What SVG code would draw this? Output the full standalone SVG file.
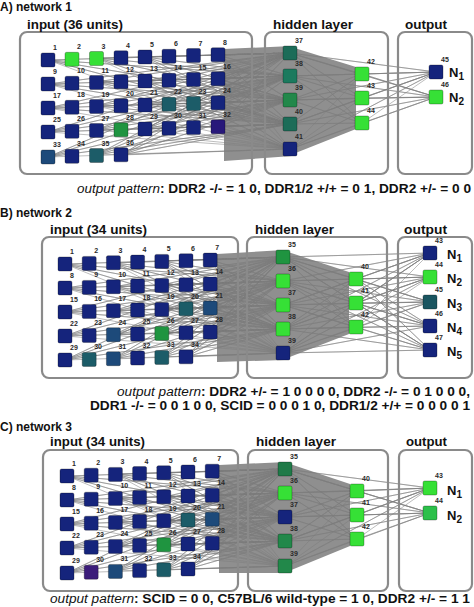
<svg xmlns="http://www.w3.org/2000/svg" xmlns:xlink="http://www.w3.org/1999/xlink" width="474" height="607" viewBox="0 0 474 607">
<style>
.k{fill:none;stroke:#7c7c7c;stroke-width:.6;stroke-opacity:.85}
.m{fill:#8f8f8f}
.bx{fill:none;stroke:#8a8a8a;stroke-width:2.2}
.ti{font:bold 12px "Liberation Sans",Arial,sans-serif;fill:#111}
.hd{font:bold 13px "Liberation Sans",Arial,sans-serif;fill:#111}
.l{font:bold 7px "Liberation Sans",Arial,sans-serif;fill:#2a2a2a}
.N{font:bold 13px "Liberation Sans",Arial,sans-serif;fill:#111}
.ci{font:italic 12px "Liberation Sans",Arial,sans-serif;fill:#111}
.cb{font:bold 12px "Liberation Sans",Arial,sans-serif;fill:#111}
.nv{fill:#15247c}.gb{fill:#36e036}.gm{fill:#1f9440}.tl{fill:#1c5c68}.tb{fill:#1d4a7a}
.tg{fill:#1c6c58}.tg2{fill:#1b7a5e}.g2{fill:#22884a}.g3{fill:#2cc04a}.g4{fill:#1f7a48}
.in{fill:#28187a}.pu{fill:#3b1c7a}.t5{fill:#1a5560}
</style>
<defs>
<rect id="q" width="14" height="14" rx="1.5" stroke="#000" stroke-opacity=".35" stroke-width=".8"/>
</defs>
<g id="connectors">
<polygon class="m" points="224,49 292,46 292,156 224,161"/>
<polygon class="m" points="288,46 356,67 356,129 288,156"/>
<polygon class="m" points="217,254 284,250 284,360 217,362"/>
<polygon class="m" points="282,250 349,272 349,334 282,360"/>
<polygon class="m" points="219,465 286,462 286,573 219,573"/>
<polygon class="m" points="284,462 350,484 350,546 284,573"/>
<path class="k" d="M48 60L290 53 48 60 290 76 48 60 290 100 48 60 290 124 48 60 290 149M48 84L290 53 48 84 290 76 48 84 290 100 48 84 290 124 48 84 290 149M48 108L290 53 48 108 290 76 48 108 290 100 48 108 290 124 48 108 290 149M48 132L290 53 48 132 290 76 48 132 290 100 48 132 290 124 48 132 290 149M48 157L290 53 48 157 290 76 48 157 290 100 48 157 290 124 48 157 290 149M96 58L290 53 96 58 290 76 96 58 290 100 96 58 290 124 96 58 290 149M96 82L290 53 96 82 290 76 96 82 290 100 96 82 290 124 96 82 290 149M96 106L290 53 96 106 290 76 96 106 290 100 96 106 290 124 96 106 290 149M96 130L290 53 96 130 290 76 96 130 290 100 96 130 290 124 96 130 290 149M96 155L290 53 96 155 290 76 96 155 290 100 96 155 290 124 96 155 290 149M145 57L290 53 145 57 290 76 145 57 290 100 145 57 290 124 145 57 290 149M145 81L290 53 145 81 290 76 145 81 290 100 145 81 290 124 145 81 290 149M145 105L290 53 145 105 290 76 145 105 290 100 145 105 290 124 145 105 290 149M145 129L290 53 145 129 290 76 145 129 290 100 145 129 290 124 145 129 290 149M121 155L290 53 121 155 290 76 121 155 290 100 121 155 290 124 121 155 290 149M218 55L290 53 218 55 290 76 218 55 290 100 218 55 290 124 218 55 290 149M218 79L290 53 218 79 290 76 218 79 290 100 218 79 290 124 218 79 290 149M218 103L290 53 218 103 290 76 218 103 290 100 218 103 290 124 218 103 290 149M218 127L290 53 218 127 290 76 218 127 290 100 218 127 290 124 218 127 290 149"/>
<path class="k" d="M362 74L290 53 362 74 290 76 362 74 290 100 362 74 290 124 362 74 290 149M362 98L290 53 362 98 290 76 362 98 290 100 362 98 290 124 362 98 290 149M362 123L290 53 362 123 290 76 362 123 290 100 362 123 290 124 362 123 290 149M436 72L290 53 436 72 290 76 436 72 290 100 436 72 290 124 436 72 290 149 436 72 362 74 436 72 362 98 436 72 362 123M436 97L290 53 436 97 290 76 436 97 290 100 436 97 290 124 436 97 290 149 436 97 362 74 436 97 362 98 436 97 362 123"/>
<path class="k" d="M65 264L283 257 65 264 283 281 65 264 283 305 65 264 283 329 65 264 283 353M65 288L283 257 65 288 283 281 65 288 283 305 65 288 283 329 65 288 283 353M65 312L283 257 65 312 283 281 65 312 283 305 65 312 283 329 65 312 283 353M65 336L283 257 65 336 283 281 65 336 283 305 65 336 283 329 65 336 283 353M65 360L283 257 65 360 283 281 65 360 283 305 65 360 283 329 65 360 283 353M113 263L283 257 113 263 283 281 113 263 283 305 113 263 283 329 113 263 283 353M113 287L283 257 113 287 283 281 113 287 283 305 113 287 283 329 113 287 283 353M113 311L283 257 113 311 283 281 113 311 283 305 113 311 283 329 113 311 283 353M113 335L283 257 113 335 283 281 113 335 283 305 113 335 283 329 113 335 283 353M113 359L283 257 113 359 283 281 113 359 283 305 113 359 283 329 113 359 283 353M162 261L283 257 162 261 283 281 162 261 283 305 162 261 283 329 162 261 283 353M162 285L283 257 162 285 283 281 162 285 283 305 162 285 283 329 162 285 283 353M162 309L283 257 162 309 283 281 162 309 283 305 162 309 283 329 162 309 283 353M162 333L283 257 162 333 283 281 162 333 283 305 162 333 283 329 162 333 283 353M162 357L283 257 162 357 283 281 162 357 283 305 162 357 283 329 162 357 283 353M210 260L283 257 210 260 283 281 210 260 283 305 210 260 283 329 210 260 283 353M210 284L283 257 210 284 283 281 210 284 283 305 210 284 283 329 210 284 283 353M210 308L283 257 210 308 283 281 210 308 283 305 210 308 283 329 210 308 283 353M210 332L283 257 210 332 283 281 210 332 283 305 210 332 283 329 210 332 283 353M186 357L283 257 186 357 283 281 186 357 283 305 186 357 283 329 186 357 283 353"/>
<path class="k" d="M356 279L283 257 356 279 283 281 356 279 283 305 356 279 283 329 356 279 283 353M356 303L283 257 356 303 283 281 356 303 283 305 356 303 283 329 356 303 283 353M356 327L283 257 356 327 283 281 356 327 283 305 356 327 283 329 356 327 283 353M430 253L283 257 430 253 283 281 430 253 283 305 430 253 283 329 430 253 283 353 430 253 356 279 430 253 356 303 430 253 356 327M430 277L283 257 430 277 283 281 430 277 283 305 430 277 283 329 430 277 283 353 430 277 356 279 430 277 356 303 430 277 356 327M430 302L283 257 430 302 283 281 430 302 283 305 430 302 283 329 430 302 283 353 430 302 356 279 430 302 356 303 430 302 356 327M430 326L283 257 430 326 283 281 430 326 283 305 430 326 283 329 430 326 283 353 430 326 356 279 430 326 356 303 430 326 356 327M430 350L283 257 430 350 283 281 430 350 283 305 430 350 283 329 430 350 283 353 430 350 356 279 430 350 356 303 430 350 356 327"/>
<path class="k" d="M67 476L285 469 67 476 285 493 67 476 285 517 67 476 285 541 67 476 285 566M67 500L285 469 67 500 285 493 67 500 285 517 67 500 285 541 67 500 285 566M67 524L285 469 67 524 285 493 67 524 285 517 67 524 285 541 67 524 285 566M67 548L285 469 67 548 285 493 67 548 285 517 67 548 285 541 67 548 285 566M67 573L285 469 67 573 285 493 67 573 285 517 67 573 285 541 67 573 285 566M115 474L285 469 115 474 285 493 115 474 285 517 115 474 285 541 115 474 285 566M115 498L285 469 115 498 285 493 115 498 285 517 115 498 285 541 115 498 285 566M115 522L285 469 115 522 285 493 115 522 285 517 115 522 285 541 115 522 285 566M115 546L285 469 115 546 285 493 115 546 285 517 115 546 285 541 115 546 285 566M115 571L285 469 115 571 285 493 115 571 285 517 115 571 285 541 115 571 285 566M164 473L285 469 164 473 285 493 164 473 285 517 164 473 285 541 164 473 285 566M164 497L285 469 164 497 285 493 164 497 285 517 164 497 285 541 164 497 285 566M164 521L285 469 164 521 285 493 164 521 285 517 164 521 285 541 164 521 285 566M164 545L285 469 164 545 285 493 164 545 285 517 164 545 285 541 164 545 285 566M164 570L285 469 164 570 285 493 164 570 285 517 164 570 285 541 164 570 285 566M212 471L285 469 212 471 285 493 212 471 285 517 212 471 285 541 212 471 285 566M212 495L285 469 212 495 285 493 212 495 285 517 212 495 285 541 212 495 285 566M212 519L285 469 212 519 285 493 212 519 285 517 212 519 285 541 212 519 285 566M212 543L285 469 212 543 285 493 212 543 285 517 212 543 285 541 212 543 285 566M188 569L285 469 188 569 285 493 188 569 285 517 188 569 285 541 188 569 285 566"/>
<path class="k" d="M357 491L285 469 357 491 285 493 357 491 285 517 357 491 285 541 357 491 285 566M357 515L285 469 357 515 285 493 357 515 285 517 357 515 285 541 357 515 285 566M357 539L285 469 357 539 285 493 357 539 285 517 357 539 285 541 357 539 285 566M430 488L285 469 430 488 285 493 430 488 285 517 430 488 285 541 430 488 285 566 430 488 357 491 430 488 357 515 430 488 357 539M430 513L285 469 430 513 285 493 430 513 285 517 430 513 285 541 430 513 285 566 430 513 357 491 430 513 357 515 430 513 357 539"/>
</g>
<g id="boxes">
<rect class="bx" x="20" y="32" width="232" height="142" rx="7"/>
<rect class="bx" x="265" y="32" width="123" height="142" rx="7"/>
<rect class="bx" x="398" y="32" width="74" height="142" rx="7"/>
<rect class="bx" x="42" y="237" width="196" height="141" rx="7"/>
<rect class="bx" x="247" y="237" width="140" height="141" rx="7"/>
<rect class="bx" x="398" y="237" width="74" height="141" rx="7"/>
<rect class="bx" x="43" y="450" width="195" height="141" rx="7"/>
<rect class="bx" x="248" y="450" width="140" height="141" rx="7"/>
<rect class="bx" x="399" y="450" width="73" height="141" rx="7"/>
</g>
<g id="titles">
<text class="ti" x="0" y="10.5">A) network 1</text>
<text class="hd" x="27" y="29" textLength="96" lengthAdjust="spacingAndGlyphs">input (36 units)</text>
<text class="hd" x="273" y="29" textLength="80" lengthAdjust="spacingAndGlyphs">hidden layer</text>
<text class="hd" x="405" y="29" textLength="42" lengthAdjust="spacingAndGlyphs">output</text>
<text class="ti" x="0" y="217">B) network 2</text>
<text class="hd" x="50" y="234" textLength="97" lengthAdjust="spacingAndGlyphs">input (34 units)</text>
<text class="hd" x="255" y="234" textLength="79" lengthAdjust="spacingAndGlyphs">hidden layer</text>
<text class="hd" x="404" y="234" textLength="43" lengthAdjust="spacingAndGlyphs">output</text>
<text class="ti" x="0" y="431">C) network 3</text>
<text class="hd" x="50" y="446" textLength="95" lengthAdjust="spacingAndGlyphs">input (34 units)</text>
<text class="hd" x="256" y="446" textLength="80" lengthAdjust="spacingAndGlyphs">hidden layer</text>
<text class="hd" x="406" y="446" textLength="41" lengthAdjust="spacingAndGlyphs">output</text>
</g>
<g id="captions">
<text class="ci" x="77" y="193" textLength="83" lengthAdjust="spacingAndGlyphs">output pattern</text>
<text class="cb" x="160" y="193" textLength="311" lengthAdjust="spacingAndGlyphs">: DDR2 -/- = 1 0, DDR1/2 +/+ = 0 1, DDR2 +/- = 0 0</text>
<text class="ci" x="117" y="396" textLength="84" lengthAdjust="spacingAndGlyphs">output pattern</text>
<text class="cb" x="201" y="396" textLength="269" lengthAdjust="spacingAndGlyphs">: DDR2 +/- = 1 0 0 0 0, DDR2 -/- = 0 1 0 0 0,</text>
<text class="cb" x="90" y="410" textLength="380" lengthAdjust="spacingAndGlyphs">DDR1 -/- = 0 0 1 0 0, SCID = 0 0 0 1 0, DDR1/2 +/+ = 0 0 0 0 1</text>
<text class="ci" x="50" y="603" textLength="84" lengthAdjust="spacingAndGlyphs">output pattern</text>
<text class="cb" x="134" y="603" textLength="336" lengthAdjust="spacingAndGlyphs">: SCID = 0 0, C57BL/6 wild-type = 1 0, DDR2 +/- = 1 1</text>
</g>
<g id="net1">
<g id="a1"><use href="#q" class="nv" x="41" y="53"/><text class="l" x="53" y="50">1</text></g>
<g id="a2"><use href="#q" class="gb" x="65" y="52.3"/><text class="l" x="77" y="49.3">2</text></g>
<g id="a3"><use href="#q" class="gb" x="89.5" y="51.5"/><text class="l" x="101.5" y="48.5">3</text></g>
<g id="a4"><use href="#q" class="nv" x="114" y="50.8"/><text class="l" x="126" y="47.8">4</text></g>
<g id="a5"><use href="#q" class="nv" x="138" y="50"/><text class="l" x="150" y="47">5</text></g>
<g id="a6"><use href="#q" class="nv" x="162" y="49.3"/><text class="l" x="174" y="46.3">6</text></g>
<g id="a7"><use href="#q" class="nv" x="186.5" y="48.5"/><text class="l" x="198.5" y="45.5">7</text></g>
<g id="a8"><use href="#q" class="nv" x="211" y="47.8"/><text class="l" x="223" y="44.8">8</text></g>
<g id="a9"><use href="#q" class="nv" x="41" y="77"/><text class="l" x="53" y="74">9</text></g>
<g id="a10"><use href="#q" class="nv" x="65" y="76.3"/><text class="l" x="77" y="73.3">10</text></g>
<g id="a11"><use href="#q" class="nv" x="89.5" y="75.5"/><text class="l" x="101.5" y="72.5">11</text></g>
<g id="a12"><use href="#q" class="nv" x="114" y="74.8"/><text class="l" x="126" y="71.8">12</text></g>
<g id="a13"><use href="#q" class="nv" x="138" y="74"/><text class="l" x="150" y="71">13</text></g>
<g id="a14"><use href="#q" class="nv" x="162" y="73.3"/><text class="l" x="174" y="70.3">14</text></g>
<g id="a15"><use href="#q" class="nv" x="186.5" y="72.5"/><text class="l" x="198.5" y="69.5">15</text></g>
<g id="a16"><use href="#q" class="nv" x="211" y="71.8"/><text class="l" x="223" y="68.8">16</text></g>
<g id="a17"><use href="#q" class="nv" x="41" y="101"/><text class="l" x="53" y="98">17</text></g>
<g id="a18"><use href="#q" class="nv" x="65" y="100.3"/><text class="l" x="77" y="97.3">18</text></g>
<g id="a19"><use href="#q" class="nv" x="89.5" y="99.5"/><text class="l" x="101.5" y="96.5">19</text></g>
<g id="a20"><use href="#q" class="nv" x="114" y="98.8"/><text class="l" x="126" y="95.8">20</text></g>
<g id="a21"><use href="#q" class="nv" x="138" y="98"/><text class="l" x="150" y="95">21</text></g>
<g id="a22"><use href="#q" class="tl" x="162" y="97.3"/><text class="l" x="174" y="94.3">22</text></g>
<g id="a23"><use href="#q" class="tl" x="186.5" y="96.5"/><text class="l" x="198.5" y="93.5">23</text></g>
<g id="a24"><use href="#q" class="nv" x="211" y="95.8"/><text class="l" x="223" y="92.8">24</text></g>
<g id="a25"><use href="#q" class="nv" x="41" y="125"/><text class="l" x="53" y="122">25</text></g>
<g id="a26"><use href="#q" class="nv" x="65" y="124.3"/><text class="l" x="77" y="121.3">26</text></g>
<g id="a27"><use href="#q" class="nv" x="89.5" y="123.5"/><text class="l" x="101.5" y="120.5">27</text></g>
<g id="a28"><use href="#q" class="gm" x="114" y="122.8"/><text class="l" x="126" y="119.8">28</text></g>
<g id="a29"><use href="#q" class="nv" x="138" y="122"/><text class="l" x="150" y="119">29</text></g>
<g id="a30"><use href="#q" class="nv" x="162" y="121.3"/><text class="l" x="174" y="118.3">30</text></g>
<g id="a31"><use href="#q" class="nv" x="186.5" y="120.5"/><text class="l" x="198.5" y="117.5">31</text></g>
<g id="a32"><use href="#q" class="in" x="211" y="119.8"/><text class="l" x="223" y="116.8">32</text></g>
<g id="a33"><use href="#q" class="tb" x="41" y="150"/><text class="l" x="53" y="147">33</text></g>
<g id="a34"><use href="#q" class="nv" x="65" y="149.3"/><text class="l" x="77" y="146.3">34</text></g>
<g id="a35"><use href="#q" class="tl" x="89.5" y="148.5"/><text class="l" x="101.5" y="145.5">35</text></g>
<g id="a36"><use href="#q" class="nv" x="114" y="147.8"/><text class="l" x="126" y="144.8">36</text></g>
<g id="a37"><use href="#q" class="tg" x="283" y="46"/><text class="l" x="295" y="43">37</text></g>
<g id="a38"><use href="#q" class="tg2" x="283" y="69"/><text class="l" x="295" y="66">38</text></g>
<g id="a39"><use href="#q" class="g2" x="283" y="93"/><text class="l" x="295" y="90">39</text></g>
<g id="a40"><use href="#q" class="tg" x="283" y="117"/><text class="l" x="295" y="114">40</text></g>
<g id="a41"><use href="#q" class="nv" x="283" y="142"/><text class="l" x="295" y="139">41</text></g>
<g id="a42"><use href="#q" class="gb" x="355" y="67"/><text class="l" x="367" y="64">42</text></g>
<g id="a43"><use href="#q" class="gb" x="355" y="91"/><text class="l" x="367" y="88">43</text></g>
<g id="a44"><use href="#q" class="gb" x="355" y="116"/><text class="l" x="367" y="113">44</text></g>
<g id="a45"><use href="#q" class="nv" x="429" y="65"/><text class="l" x="441" y="62">45</text><text class="N" x="449" y="77">N<tspan dy="3" font-size="10">1</tspan></text></g>
<g id="a46"><use href="#q" class="gb" x="429" y="90"/><text class="l" x="441" y="87">46</text><text class="N" x="449" y="102">N<tspan dy="3" font-size="10">2</tspan></text></g>
</g>
<g id="net2">
<g id="b1"><use href="#q" class="nv" x="58" y="257"/><text class="l" x="70" y="254">1</text></g>
<g id="b2"><use href="#q" class="nv" x="82.2" y="256.4"/><text class="l" x="94.2" y="253.4">2</text></g>
<g id="b3"><use href="#q" class="nv" x="106.4" y="255.7"/><text class="l" x="118.4" y="252.7">3</text></g>
<g id="b4"><use href="#q" class="nv" x="130.6" y="255.1"/><text class="l" x="142.6" y="252.1">4</text></g>
<g id="b5"><use href="#q" class="nv" x="154.8" y="254.4"/><text class="l" x="166.8" y="251.4">5</text></g>
<g id="b6"><use href="#q" class="nv" x="179" y="253.8"/><text class="l" x="191" y="250.8">6</text></g>
<g id="b7"><use href="#q" class="nv" x="203.2" y="253.1"/><text class="l" x="215.2" y="250.1">7</text></g>
<g id="b8"><use href="#q" class="nv" x="58" y="281"/><text class="l" x="70" y="278">8</text></g>
<g id="b9"><use href="#q" class="nv" x="82.2" y="280.4"/><text class="l" x="94.2" y="277.4">9</text></g>
<g id="b10"><use href="#q" class="nv" x="106.4" y="279.7"/><text class="l" x="118.4" y="276.7">10</text></g>
<g id="b11"><use href="#q" class="nv" x="130.6" y="279.1"/><text class="l" x="142.6" y="276.1">11</text></g>
<g id="b12"><use href="#q" class="nv" x="154.8" y="278.4"/><text class="l" x="166.8" y="275.4">12</text></g>
<g id="b13"><use href="#q" class="nv" x="179" y="277.8"/><text class="l" x="191" y="274.8">13</text></g>
<g id="b14"><use href="#q" class="nv" x="203.2" y="277.1"/><text class="l" x="215.2" y="274.1">14</text></g>
<g id="b15"><use href="#q" class="nv" x="58" y="305"/><text class="l" x="70" y="302">15</text></g>
<g id="b16"><use href="#q" class="nv" x="82.2" y="304.4"/><text class="l" x="94.2" y="301.4">16</text></g>
<g id="b17"><use href="#q" class="nv" x="106.4" y="303.7"/><text class="l" x="118.4" y="300.7">17</text></g>
<g id="b18"><use href="#q" class="nv" x="130.6" y="303.1"/><text class="l" x="142.6" y="300.1">18</text></g>
<g id="b19"><use href="#q" class="nv" x="154.8" y="302.4"/><text class="l" x="166.8" y="299.4">19</text></g>
<g id="b20"><use href="#q" class="tl" x="179" y="301.8"/><text class="l" x="191" y="298.8">20</text></g>
<g id="b21"><use href="#q" class="tb" x="203.2" y="301.1"/><text class="l" x="215.2" y="298.1">21</text></g>
<g id="b22"><use href="#q" class="nv" x="58" y="329"/><text class="l" x="70" y="326">22</text></g>
<g id="b23"><use href="#q" class="nv" x="82.2" y="328.4"/><text class="l" x="94.2" y="325.4">23</text></g>
<g id="b24"><use href="#q" class="tb" x="106.4" y="327.7"/><text class="l" x="118.4" y="324.7">24</text></g>
<g id="b25"><use href="#q" class="nv" x="130.6" y="327.1"/><text class="l" x="142.6" y="324.1">25</text></g>
<g id="b26"><use href="#q" class="gm" x="154.8" y="326.4"/><text class="l" x="166.8" y="323.4">26</text></g>
<g id="b27"><use href="#q" class="nv" x="179" y="325.8"/><text class="l" x="191" y="322.8">27</text></g>
<g id="b28"><use href="#q" class="nv" x="203.2" y="325.1"/><text class="l" x="215.2" y="322.1">28</text></g>
<g id="b29"><use href="#q" class="nv" x="58" y="353"/><text class="l" x="70" y="350">29</text></g>
<g id="b30"><use href="#q" class="tl" x="82.2" y="352.4"/><text class="l" x="94.2" y="349.4">30</text></g>
<g id="b31"><use href="#q" class="tb" x="106.4" y="351.7"/><text class="l" x="118.4" y="348.7">31</text></g>
<g id="b32"><use href="#q" class="nv" x="130.6" y="351.1"/><text class="l" x="142.6" y="348.1">32</text></g>
<g id="b33"><use href="#q" class="tl" x="154.8" y="350.4"/><text class="l" x="166.8" y="347.4">33</text></g>
<g id="b34"><use href="#q" class="nv" x="179" y="349.8"/><text class="l" x="191" y="346.8">34</text></g>
<g id="b35"><use href="#q" class="gm" x="276" y="250"/><text class="l" x="288" y="247">35</text></g>
<g id="b36"><use href="#q" class="gb" x="276" y="274"/><text class="l" x="288" y="271">36</text></g>
<g id="b37"><use href="#q" class="gb" x="276" y="298"/><text class="l" x="288" y="295">37</text></g>
<g id="b38"><use href="#q" class="gb" x="276" y="322"/><text class="l" x="288" y="319">38</text></g>
<g id="b39"><use href="#q" class="nv" x="276" y="346"/><text class="l" x="288" y="343">39</text></g>
<g id="b40"><use href="#q" class="gb" x="349" y="272"/><text class="l" x="361" y="269">40</text></g>
<g id="b41"><use href="#q" class="gb" x="349" y="296"/><text class="l" x="361" y="293">41</text></g>
<g id="b42"><use href="#q" class="gb" x="349" y="320"/><text class="l" x="361" y="317">42</text></g>
<g id="b43"><use href="#q" class="nv" x="423" y="246"/><text class="l" x="435" y="243">43</text><text class="N" x="447" y="259">N<tspan dy="3" font-size="10">1</tspan></text></g>
<g id="b44"><use href="#q" class="gb" x="423" y="270"/><text class="l" x="435" y="267">44</text><text class="N" x="447" y="283">N<tspan dy="3" font-size="10">2</tspan></text></g>
<g id="b45"><use href="#q" class="t5" x="423" y="295"/><text class="l" x="435" y="292">45</text><text class="N" x="447" y="308">N<tspan dy="3" font-size="10">3</tspan></text></g>
<g id="b46"><use href="#q" class="nv" x="423" y="319"/><text class="l" x="435" y="316">46</text><text class="N" x="447" y="332">N<tspan dy="3" font-size="10">4</tspan></text></g>
<g id="b47"><use href="#q" class="nv" x="423" y="343"/><text class="l" x="435" y="340">47</text><text class="N" x="447" y="356">N<tspan dy="3" font-size="10">5</tspan></text></g>
</g>
<g id="net3">
<g id="c1"><use href="#q" class="nv" x="60" y="469"/><text class="l" x="72" y="466">1</text></g>
<g id="c2"><use href="#q" class="nv" x="84.2" y="468.2"/><text class="l" x="96.2" y="465.2">2</text></g>
<g id="c3"><use href="#q" class="nv" x="108.4" y="467.4"/><text class="l" x="120.4" y="464.4">3</text></g>
<g id="c4"><use href="#q" class="nv" x="132.6" y="466.6"/><text class="l" x="144.6" y="463.6">4</text></g>
<g id="c5"><use href="#q" class="nv" x="156.8" y="465.8"/><text class="l" x="168.8" y="462.8">5</text></g>
<g id="c6"><use href="#q" class="nv" x="181" y="465"/><text class="l" x="193" y="462">6</text></g>
<g id="c7"><use href="#q" class="nv" x="205.2" y="464.2"/><text class="l" x="217.2" y="461.2">7</text></g>
<g id="c8"><use href="#q" class="nv" x="60" y="493"/><text class="l" x="72" y="490">8</text></g>
<g id="c9"><use href="#q" class="nv" x="84.2" y="492.2"/><text class="l" x="96.2" y="489.2">9</text></g>
<g id="c10"><use href="#q" class="nv" x="108.4" y="491.4"/><text class="l" x="120.4" y="488.4">10</text></g>
<g id="c11"><use href="#q" class="nv" x="132.6" y="490.6"/><text class="l" x="144.6" y="487.6">11</text></g>
<g id="c12"><use href="#q" class="nv" x="156.8" y="489.8"/><text class="l" x="168.8" y="486.8">12</text></g>
<g id="c13"><use href="#q" class="nv" x="181" y="489"/><text class="l" x="193" y="486">13</text></g>
<g id="c14"><use href="#q" class="nv" x="205.2" y="488.2"/><text class="l" x="217.2" y="485.2">14</text></g>
<g id="c15"><use href="#q" class="nv" x="60" y="517"/><text class="l" x="72" y="514">15</text></g>
<g id="c16"><use href="#q" class="nv" x="84.2" y="516.2"/><text class="l" x="96.2" y="513.2">16</text></g>
<g id="c17"><use href="#q" class="nv" x="108.4" y="515.4"/><text class="l" x="120.4" y="512.4">17</text></g>
<g id="c18"><use href="#q" class="nv" x="132.6" y="514.6"/><text class="l" x="144.6" y="511.6">18</text></g>
<g id="c19"><use href="#q" class="nv" x="156.8" y="513.8"/><text class="l" x="168.8" y="510.8">19</text></g>
<g id="c20"><use href="#q" class="tl" x="181" y="513"/><text class="l" x="193" y="510">20</text></g>
<g id="c21"><use href="#q" class="tb" x="205.2" y="512.2"/><text class="l" x="217.2" y="509.2">21</text></g>
<g id="c22"><use href="#q" class="nv" x="60" y="541"/><text class="l" x="72" y="538">22</text></g>
<g id="c23"><use href="#q" class="nv" x="84.2" y="540.2"/><text class="l" x="96.2" y="537.2">23</text></g>
<g id="c24"><use href="#q" class="nv" x="108.4" y="539.4"/><text class="l" x="120.4" y="536.4">24</text></g>
<g id="c25"><use href="#q" class="nv" x="132.6" y="538.6"/><text class="l" x="144.6" y="535.6">25</text></g>
<g id="c26"><use href="#q" class="gm" x="156.8" y="537.8"/><text class="l" x="168.8" y="534.8">26</text></g>
<g id="c27"><use href="#q" class="nv" x="181" y="537"/><text class="l" x="193" y="534">27</text></g>
<g id="c28"><use href="#q" class="nv" x="205.2" y="536.2"/><text class="l" x="217.2" y="533.2">28</text></g>
<g id="c29"><use href="#q" class="nv" x="60" y="566"/><text class="l" x="72" y="563">29</text></g>
<g id="c30"><use href="#q" class="pu" x="84.2" y="565.2"/><text class="l" x="96.2" y="562.2">30</text></g>
<g id="c31"><use href="#q" class="tb" x="108.4" y="564.4"/><text class="l" x="120.4" y="561.4">31</text></g>
<g id="c32"><use href="#q" class="nv" x="132.6" y="563.6"/><text class="l" x="144.6" y="560.6">32</text></g>
<g id="c33"><use href="#q" class="tl" x="156.8" y="562.8"/><text class="l" x="168.8" y="559.8">33</text></g>
<g id="c34"><use href="#q" class="nv" x="181" y="562"/><text class="l" x="193" y="559">34</text></g>
<g id="c35"><use href="#q" class="g4" x="278" y="462"/><text class="l" x="290" y="459">35</text></g>
<g id="c36"><use href="#q" class="gb" x="278" y="486"/><text class="l" x="290" y="483">36</text></g>
<g id="c37"><use href="#q" class="nv" x="278" y="510"/><text class="l" x="290" y="507">37</text></g>
<g id="c38"><use href="#q" class="g2" x="278" y="534"/><text class="l" x="290" y="531">38</text></g>
<g id="c39"><use href="#q" class="g2" x="278" y="559"/><text class="l" x="290" y="556">39</text></g>
<g id="c40"><use href="#q" class="gb" x="350" y="484"/><text class="l" x="362" y="481">40</text></g>
<g id="c41"><use href="#q" class="gb" x="350" y="508"/><text class="l" x="362" y="505">41</text></g>
<g id="c42"><use href="#q" class="gb" x="350" y="532"/><text class="l" x="362" y="529">42</text></g>
<g id="c43"><use href="#q" class="gb" x="423" y="481"/><text class="l" x="435" y="478">43</text><text class="N" x="447" y="495">N<tspan dy="3" font-size="10">1</tspan></text></g>
<g id="c44"><use href="#q" class="g3" x="423" y="506"/><text class="l" x="435" y="503">44</text><text class="N" x="447" y="520">N<tspan dy="3" font-size="10">2</tspan></text></g>
</g>
</svg>
